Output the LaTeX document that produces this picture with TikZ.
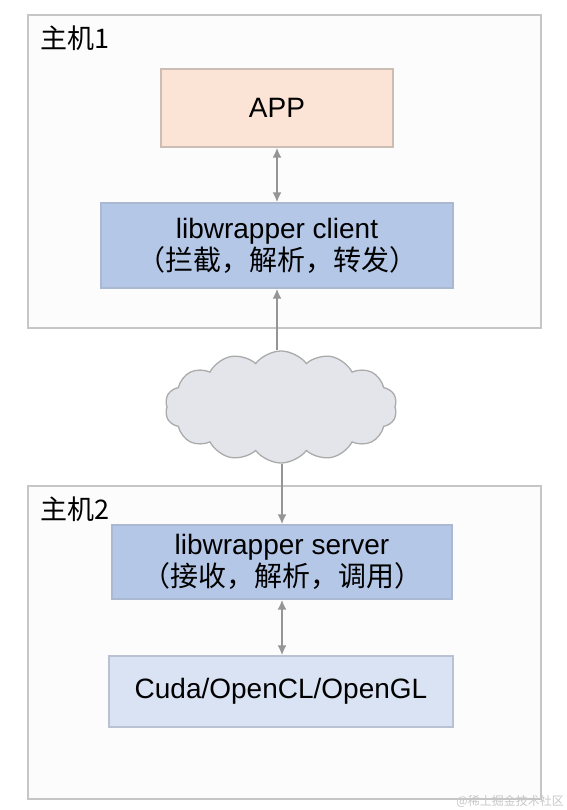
\documentclass[tikz,border=0pt]{standalone}
\usepackage{fontspec}
\setmainfont{Liberation Sans}
\newfontfamily\cjk{Noto Sans CJK SC}
\usetikzlibrary{shapes.symbols,arrows.meta}
\definecolor{hostline}{HTML}{C6C6C6}
\definecolor{hostfill}{HTML}{FCFCFC}
\definecolor{appfill}{HTML}{FBE4D6}
\definecolor{appline}{HTML}{CBBDB4}
\definecolor{wrapfill}{HTML}{B4C7E7}
\definecolor{wrapline}{HTML}{AAB8D2}
\definecolor{gpufill}{HTML}{DAE3F3}
\definecolor{gpuline}{HTML}{B9C2D2}
\definecolor{cloudfill}{HTML}{E3E5EA}
\definecolor{cloudline}{HTML}{ABABAB}
\definecolor{arrowgray}{HTML}{959595}
\begin{document}
\begin{tikzpicture}[x=1pt,y=-1pt,
	host/.style={draw=hostline,fill=hostfill,line width=1.5pt,inner sep=0pt,minimum width=513pt,minimum height=313pt},
	hostname/.style={anchor=west,inner sep=0pt,font=\fontsize{27}{30}\selectfont\cjk},
	box/.style={line width=1.3pt,inner sep=0pt,align=center,font=\fontsize{28}{34}\selectfont},
	link/.style={draw=arrowgray,line width=2pt,-{Latex[length=10pt,width=9pt]}},
	twoway/.style={link,{Latex[length=10pt,width=9pt]}-{Latex[length=10pt,width=9pt]}}]
	\useasboundingbox (0,0) rectangle (566,810);
	% two hosts
	\node[host] (host1) at (284.5,171.5) {};
	\node[host] (host2) at (284.5,642.5) {};
	\node[hostname] (name1) at (40,38) {主机1};
	\node[hostname] (name2) at (40,509) {主机2};
	% host 1
	\node[box,draw=appline,fill=appfill,minimum width=232pt,minimum height=78pt] (app) at (277,108) {APP};
	\node[box,draw=wrapline,fill=wrapfill,minimum width=352pt,minimum height=85pt] (client) at (277,245.5)
		{libwrapper client\\[-2pt]{\cjk （拦截，解析，转发）}};
	% network
	\node[cloud,cloud puffs=14,cloud puff arc=105,aspect=2.1,draw=cloudline,fill=cloudfill,line width=1.3pt,
		minimum width=232pt,minimum height=112pt,inner sep=0pt] (net) at (281,407) {};
	% host 2
	\node[box,draw=wrapline,fill=wrapfill,minimum width=340pt,minimum height=74pt] (server) at (282,562)
		{libwrapper server\\[-2pt]{\cjk （接收，解析，调用）}};
	\node[box,draw=gpuline,fill=gpufill,minimum width=344pt,minimum height=71pt] (gpu) at (281,691.5)
		{Cuda/OpenCL/OpenGL};
	% connectors
	\draw[twoway] (app.south) -- (client.north);
	\draw[link] (net.north-|client.south) -- (client.south);
	\draw[link] (net.south-|server.north) -- (server.north);
	\draw[twoway] (server.south) -- (gpu.north-|server.south);
	\node[anchor=south east,inner sep=0pt,text=black!22,font=\fontsize{12}{12}\selectfont\cjk] (mark) at (564,808) {@稀土掘金技术社区};
\end{tikzpicture}
\end{document}
